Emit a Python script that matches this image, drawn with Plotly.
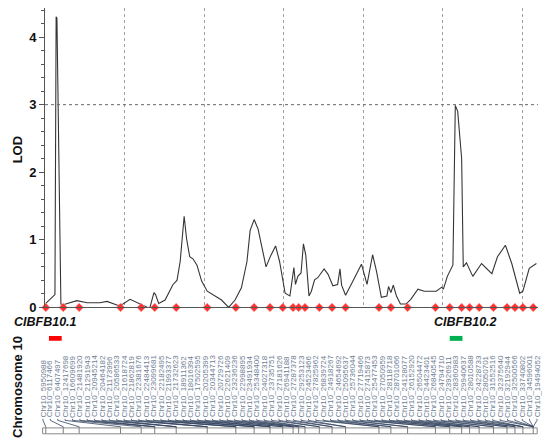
import numpy as np
import plotly.graph_objects as go

# LOD profile along chromosome 10 (position in cM, LOD score)
lod_cm = [0.1, 1.25, 1.4, 1.5, 2.0, 2.3, 4.0, 5.3, 6.9, 7.8, 9.2, 9.8, 10.7, 11.9,
          12.9, 13.2, 13.7, 13.9, 14.3, 15.1, 16.1, 16.6, 17.0, 17.5, 17.8, 18.2,
          18.6, 19.1, 19.7, 20.4, 21.0, 21.7, 22.2, 23.1, 23.9, 24.7, 25.4, 25.8,
          26.3, 26.8, 27.8, 28.4, 29.0, 29.5, 30.2, 30.8, 31.3, 31.5, 31.8, 32.2,
          32.5, 32.8, 33.2, 33.5, 33.9, 34.3, 35.1, 35.6, 36.2, 36.8, 37.1, 37.3,
          37.8, 38.6, 39.8, 40.5, 41.2, 41.7, 42.3, 43.0, 43.2, 43.5, 43.8, 44.2,
          44.7, 45.4, 46.0, 46.9, 47.7, 49.2, 49.9, 50.1, 50.6, 51.3, 51.6, 51.9,
          52.4, 52.6, 53.0, 53.8, 54.9, 56.2, 56.9, 57.9, 58.7, 59.7, 60.1, 60.9,
          61.8]
lod_value = [0.06, 0.19, 4.30, 4.28, 0.05, 0.04, 0.10, 0.07, 0.07, 0.09, 0.03, 0.05,
             0.12, 0.05, 0.0, 0.0, 0.22, 0.19, 0.06, 0.11, 0.34, 0.40, 0.68, 1.35,
             1.02, 0.75, 0.72, 0.63, 0.39, 0.24, 0.20, 0.15, 0.11, 0.0, 0.11, 0.29,
             0.68, 1.14, 1.30, 1.16, 0.60, 0.77, 0.91, 0.68, 0.21, 0.17, 0.59, 0.34,
             0.46, 0.51, 0.94, 0.77, 0.17, 0.24, 0.41, 0.44, 0.57, 0.49, 0.32, 0.34,
             0.57, 0.33, 0.18, 0.36, 0.64, 0.34, 0.78, 0.53, 0.15, 0.17, 0.31, 0.22,
             0.33, 0.17, 0.05, 0.05, 0.12, 0.27, 0.24, 0.24, 0.30, 0.27, 0.46, 0.63,
             2.99, 2.90, 2.20, 0.60, 0.66, 0.46, 0.65, 0.50, 0.75, 0.92, 0.65, 0.21,
             0.24, 0.58, 0.65]

LOD_THRESHOLD = 3.0

marker_names = [
    "Chr10_5950988", "Chr10_6117466", "Chr10_6407497", "Chr10_12417698",
    "Chr10_16609699", "Chr10_21481920", "Chr10_21291943", "Chr10_20945214",
    "Chr10_20464182", "Chr10_21173996", "Chr10_20586533", "Chr10_21618724",
    "Chr10_21862819", "Chr10_22381676", "Chr10_22484413", "Chr10_23099681",
    "Chr10_22182495", "Chr10_21993377", "Chr10_21732623", "Chr10_18911362",
    "Chr10_18016394", "Chr10_17502595", "Chr10_20205399", "Chr10_20344713",
    "Chr10_20729726", "Chr10_22621409", "Chr10_23236236", "Chr10_22998895",
    "Chr10_23491934", "Chr10_25348400", "Chr10_24027318", "Chr10_23735751",
    "Chr10_27181626", "Chr10_26941188", "Chr10_27287378", "Chr10_29253123",
    "Chr10_24523466", "Chr10_27825962", "Chr10_26839724", "Chr10_24918267",
    "Chr10_24654692", "Chr10_25095637", "Chr10_25736044", "Chr10_27719466",
    "Chr10_27415873", "Chr10_25477453", "Chr10_27050959", "Chr10_28118718",
    "Chr10_28701066", "Chr10_24128077", "Chr10_26152920", "Chr10_26504472",
    "Chr10_24423401", "Chr10_26840545", "Chr10_24794710", "Chr10_23926911",
    "Chr10_28360983", "Chr10_29940637", "Chr10_28010588", "Chr10_24228733",
    "Chr10_28050701", "Chr10_31552516", "Chr10_32375640", "Chr10_32192944",
    "Chr10_32500566", "Chr10_33740802", "Chr10_34596001", "Chr10_19494052",
]
marker_cm = [0.1, 2.3, 4.3, 9.5, 12.1,
             13.8, 13.8, 13.8, 16.5, 16.5, 16.5, 20.4, 20.4, 20.4,
             24.0, 24.0, 24.0, 26.3, 26.3, 26.3, 28.3, 28.3, 28.3,
             29.9, 29.9, 31.2, 31.2, 31.9, 31.9, 32.7, 32.7, 34.5, 34.5,
             36.1, 36.1, 37.8, 37.8, 42.0, 42.0, 43.5, 43.5, 45.6, 45.6,
             49.1, 49.1, 50.9, 50.9, 52.4, 52.4, 53.4, 53.4, 54.6, 54.6,
             56.4, 56.4, 58.1, 58.1, 59.1, 59.1, 60.1, 60.1, 60.1,
             61.4, 61.4, 61.4, 61.4, 61.4, 61.4]

qtl_names = ["CIBFB10.1", "CIBFB10.2"]
qtl_start = [0.5, 50.9]
qtl_end = [2.1, 52.5]
qtl_colors = ["#ff0000", "#00b050"]

# the page body adds an 8px margin, so the figure is drawn 8px smaller
OFF = 8
W, H = 550 - OFF, 448 - OFF
FONT = "Arial, Liberation Sans, sans-serif"
AXIS_COLOR = "#555555"


def px(x):
    return (x - OFF) / W


def py(y):
    return 1 - (y - OFF) / H


fig = go.Figure()

# LOD curve
fig.add_trace(go.Scatter(x=lod_cm, y=lod_value, mode="lines",
                         line=dict(color="#353535", width=1.1), showlegend=False,
                         xaxis="x", yaxis="y"))

# marker positions on the axis
unique_cm = np.unique(marker_cm)
fig.add_trace(go.Scatter(x=unique_cm, y=np.zeros(len(unique_cm)), mode="markers",
                         marker=dict(symbol="diamond", size=6.5, color="#ff3030",
                                     line=dict(width=0.6, color="#ff8c8c")),
                         cliponaxis=False, showlegend=False, xaxis="x", yaxis="y"))

# ---- genetic map drawing (overlay subplot, y in reference pixels) ----
label_top = 426.5
bar_y0, bar_y1 = 435.7, 441.7
label_x = np.linspace(-0.25, 61.87, len(marker_names))

cx, cy = [], []
for lx, mx in zip(label_x, marker_cm):
    cx += [lx, lx, mx, mx, None]
    cy += [label_top, label_top + 1.5, bar_y0 - 1.2, bar_y0, None]
fig.add_trace(go.Scatter(x=cx, y=cy, mode="lines",
                         line=dict(color="#33445f", width=0.8),
                         showlegend=False, xaxis="x2", yaxis="y2"))

tx, ty = [], []
for m in unique_cm:
    tx += [m, m, None]
    ty += [bar_y0, bar_y1, None]
fig.add_trace(go.Scatter(x=tx, y=ty, mode="lines",
                         line=dict(color="#5a5a5a", width=0.8),
                         showlegend=False, xaxis="x2", yaxis="y2"))

fig.add_shape(type="rect", xref="x2", yref="y2", x0=-0.3, x1=61.9,
              y0=bar_y0, y1=bar_y1, line=dict(color="#8a8a8a", width=1))

annotations = []
for lx, name in zip(label_x, marker_names):
    annotations.append(dict(xref="x2", yref="y2", x=lx, y=label_top - 0.5,
                            text=name, textangle=-90, showarrow=False,
                            xanchor="center", yanchor="bottom", borderpad=0,
                            font=dict(family=FONT, size=8, color="#6d7d93")))

# QTL bars and names
qtl_shift = [-10, 9]
for name, s, e, c, sh in zip(qtl_names, qtl_start, qtl_end, qtl_colors, qtl_shift):
    fig.add_shape(type="rect", xref="x2", yref="y2", x0=s, x1=e, y0=342, y1=347,
                  line=dict(width=0), fillcolor=c)
    annotations.append(dict(xref="x2", yref="y2", x=(s + e) / 2, y=328, xshift=sh,
                            text="<b><i>%s</i></b>" % name, showarrow=False,
                            xanchor="center", yanchor="middle",
                            font=dict(family=FONT, size=12.5, color="#111111")))

annotations.append(dict(xref="paper", yref="paper", x=px(17), y=py(153),
                        text="<b>LOD</b>", textangle=-90, showarrow=False,
                        xanchor="center", yanchor="middle",
                        font=dict(family=FONT, size=13, color="#111111")))
annotations.append(dict(xref="paper", yref="paper", x=px(18), y=py(394),
                        text="<b>Chromosome 10</b>", textangle=-90, showarrow=False,
                        xanchor="center", yanchor="middle",
                        font=dict(family=FONT, size=13, color="#111111")))

# threshold line
fig.add_shape(type="line", xref="x", yref="y", x0=0, x1=62,
              y0=LOD_THRESHOLD, y1=LOD_THRESHOLD,
              line=dict(color="#666666", width=1, dash="dot"))

fig.update_layout(
    width=W, height=H,
    margin=dict(l=0, r=0, t=0, b=0),
    paper_bgcolor="white", plot_bgcolor="rgba(0,0,0,0)",
    showlegend=False,
    annotations=annotations,
    xaxis=dict(domain=[px(45), px(538)], range=[0, 62], anchor="y",
               showgrid=True, dtick=10, tick0=0, griddash="dot",
               gridcolor="#a0a0a0", gridwidth=1, showticklabels=False,
               ticks="", showline=True, linecolor=AXIS_COLOR, linewidth=1,
               zeroline=False),
    yaxis=dict(domain=[py(313), py(8)], range=[0, 4.43], anchor="x",
               tickvals=[0, 1, 2, 3, 4], ticks="outside", ticklen=5,
               tickcolor=AXIS_COLOR, showline=True, linecolor=AXIS_COLOR,
               linewidth=1, showgrid=False, zeroline=False,
               tickfont=dict(family=FONT, size=13, color="#111111", weight="bold"),
               minor=dict(dtick=0.2, ticks="outside", ticklen=3,
                          tickcolor=AXIS_COLOR)),
    xaxis2=dict(domain=[px(41.8), px(538)], range=[-0.4, 62], anchor="y2",
                visible=False),
    yaxis2=dict(domain=[0, 1], range=[448, OFF], anchor="x2", visible=False),
)

fig.write_html("out.html")
